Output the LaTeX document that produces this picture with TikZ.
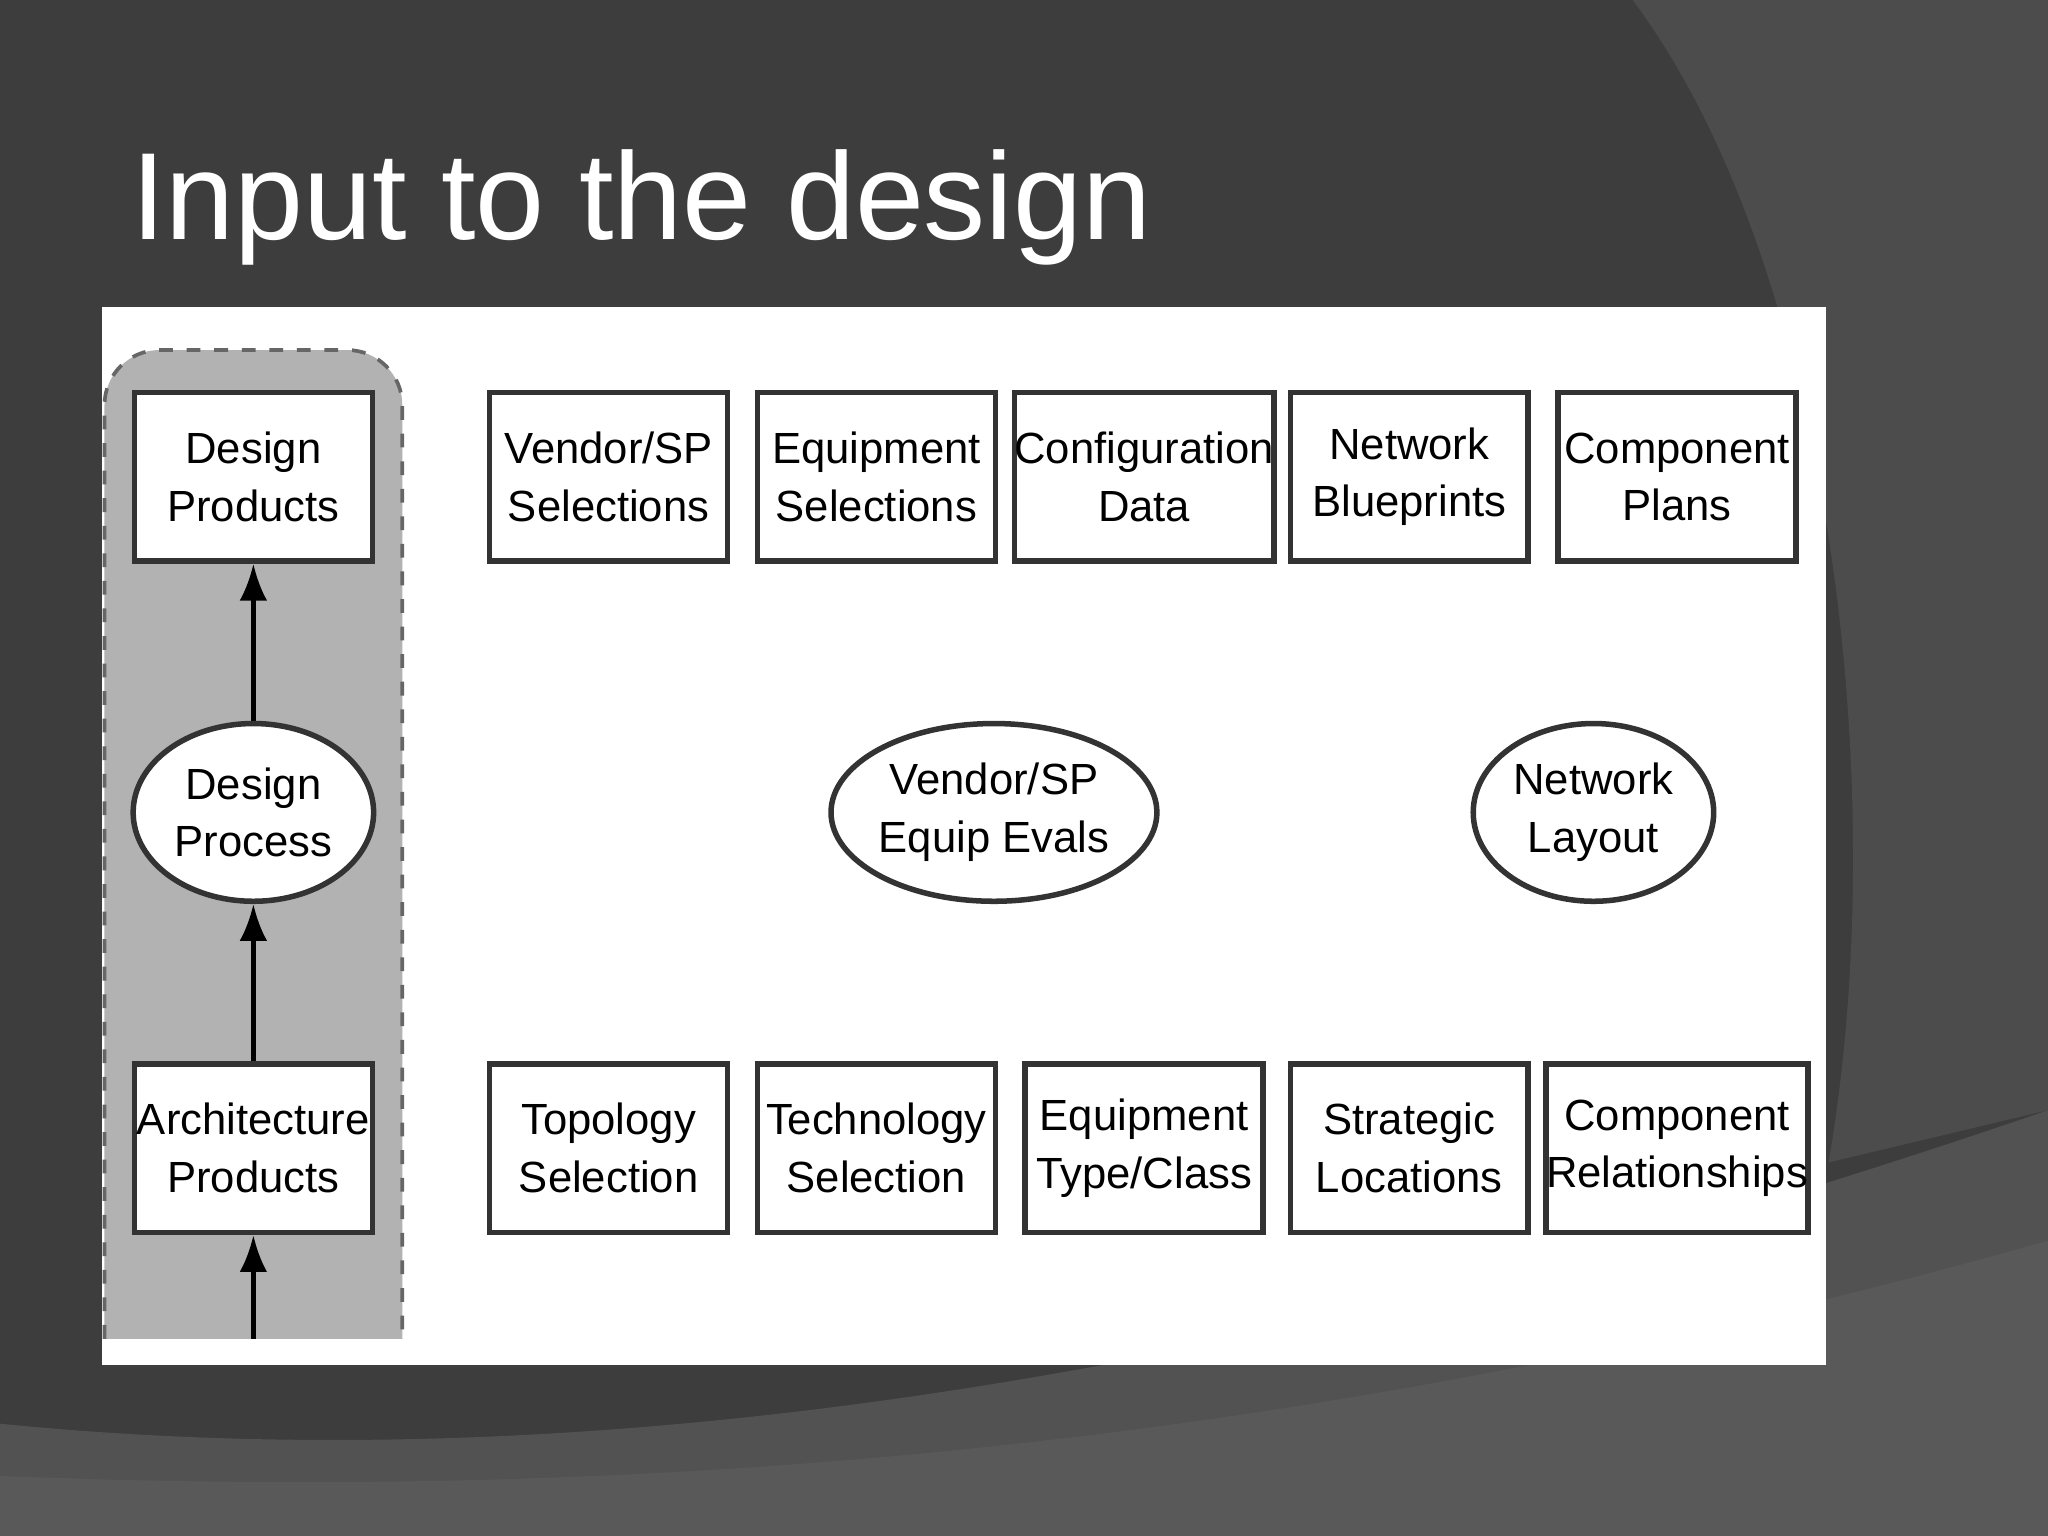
\documentclass[tikz,border=0pt]{standalone}
\usepackage{fontspec}
\setmainfont{Liberation Sans}
\usetikzlibrary{shapes.geometric,arrows.meta}
\begin{document}
\begin{tikzpicture}[x=0.01cm,y=-0.01cm,
  box/.style={draw=black!80,line width=1.2pt,fill=white,minimum width=1.82cm,minimum height=1.29cm,inner sep=0pt,align=center,font=\fontsize{9.5}{12.5}\selectfont},
  oval/.style={ellipse,draw=black!80,line width=1.2pt,fill=white,minimum width=1.84cm,minimum height=1.36cm,inner sep=0pt,align=center,font=\fontsize{9.5}{12.5}\selectfont},
  arr/.style={line width=1pt,-{Latex[length=8pt,width=6pt]}}]
\useasboundingbox (0,0) rectangle (1568,1176);
\fill[black!76] (0,0) rectangle (1568,1176);
\fill[black!70] (1250,0) .. controls (1400,200) and (1450,600) .. (1400,890) -- (1568,850) -- (1568,0) -- cycle;
\fill[black!68] (0,1090) .. controls (400,1130) and (900,1080) .. (1568,850) -- (1568,1176) -- (0,1176) -- cycle;
\fill[black!65] (0,1130) .. controls (500,1150) and (1000,1110) .. (1568,950) -- (1568,1176) -- (0,1176) -- cycle;
\node[anchor=base west,text=white,font=\fontsize{27}{30}\selectfont] (title) at (88,183) {Input to the design};
\fill[white] (78,235) rectangle (1398,1045);
\draw[fill=black!30,dashed,draw=black!60,line width=0.8pt,rounded corners=12pt] (80,1025) -- (80,268) -- (308,268) -- (308,1025);
\node[box] (dp) at (194,365) {Design\\Products};
\node[oval] (dpr) at (194,622) {Design\\Process};
\node[box] (ap) at (194,879) {Architecture\\Products};
\coordinate (in) at (194,1025);
\draw[arr] (in) -- (ap);
\draw[arr] (ap) -- (dpr);
\draw[arr] (dpr) -- (dp);
\node[box] (t1) at (466,365) {Vendor/SP\\Selections};
\node[box] (t2) at (671,365) {Equipment\\Selections};
\node[box] (t3) at (876,365) {Configuration\\Data};
\node[box] (t4) at (1079,365) {Network\\Blueprints};
\node[box] (t5) at (1284,365) {Component\\Plans};
\node[oval] (e1) at (761,622) {Vendor/SP\\Equip Evals};
\node[oval] (e2) at (1220,622) {Network\\Layout};
\node[box] (b1) at (466,879) {Topology\\Selection};
\node[box] (b2) at (671,879) {Technology\\Selection};
\node[box] (b3) at (876,879) {Equipment\\Type/Class};
\node[box] (b4) at (1079,879) {Strategic\\Locations};
\node[box] (b5) at (1284,879) {Component\\Relationships};
\end{tikzpicture}
\end{document}
